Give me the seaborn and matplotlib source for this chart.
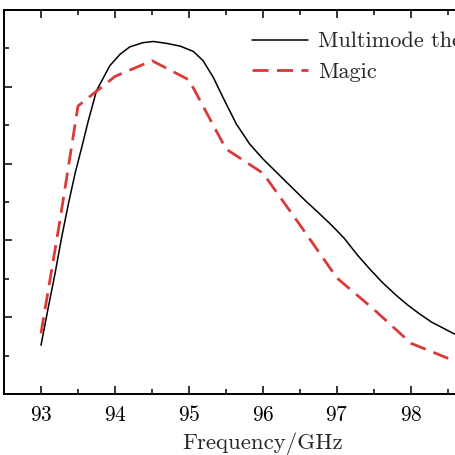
import numpy as np
import pandas as pd
import matplotlib
matplotlib.use('Agg')
import matplotlib.pyplot as plt
from matplotlib.ticker import MultipleLocator
import seaborn as sns

# 数据（从图中读取，纵轴单位为任意单位）
freq_theory = [93.0, 93.1, 93.19, 93.28, 93.37, 93.46, 93.55, 93.64, 93.75, 93.93,
               94.07, 94.2, 94.38, 94.52, 94.7, 94.88, 95.06, 95.19, 95.33, 95.46,
               95.64, 95.82, 96.0, 96.2, 96.4, 96.57, 96.75, 96.93, 97.1, 97.28,
               97.45, 97.61, 97.8, 97.96, 98.12, 98.28, 98.43, 98.57, 98.75, 99.0]
val_theory = [1.27, 2.27, 3.14, 4.09, 4.95, 5.74, 6.42, 7.12, 7.9, 8.55,
              8.85, 9.04, 9.15, 9.18, 9.13, 9.06, 8.92, 8.68, 8.24, 7.72,
              7.03, 6.51, 6.12, 5.74, 5.36, 5.04, 4.72, 4.39, 4.05, 3.61,
              3.24, 2.91, 2.57, 2.31, 2.08, 1.87, 1.72, 1.58, 1.44, 1.28]

freq_magic = [93.0, 93.25, 93.5, 94.0, 94.5, 95.0, 95.5, 96.0, 96.5, 97.0, 97.5, 98.0, 98.5, 99.0]
val_magic = [1.58, 4.45, 7.5, 8.27, 8.68, 8.18, 6.38, 5.75, 4.4, 3.02, 2.2, 1.32, 0.93, 0.82]

labels = ['Multimode theory', 'Magic']

sns.set_theme(style='ticks')
plt.rcParams['font.family'] = ['cmr10', 'DejaVu Serif']
plt.rcParams['axes.formatter.use_mathtext'] = True
plt.rcParams['mathtext.fontset'] = 'cm'

fig = plt.figure(figsize=(4.55, 4.55), dpi=100)
# 原图被裁切：坐标轴向右延伸到画面之外
ax = fig.add_axes([4 / 455, 61 / 455, 518 / 455, 384 / 455])

df_t = pd.DataFrame({'f': freq_theory, 'v': val_theory})
df_m = pd.DataFrame({'f': freq_magic, 'v': val_magic})

sns.lineplot(data=df_t, x='f', y='v', ax=ax, color='black', linewidth=1.1,
             label=labels[0])
sns.lineplot(data=df_m, x='f', y='v', ax=ax, color='#d93a3a', linewidth=2.0,
             label=labels[1])
ax.lines[1].set_dashes((5.8, 3.0))

ax.set_xlim(92.5, 99.5)
ax.set_ylim(0, 10)
ax.xaxis.set_major_locator(MultipleLocator(1))
ax.xaxis.set_minor_locator(MultipleLocator(0.5))
ax.yaxis.set_major_locator(MultipleLocator(2))
ax.yaxis.set_minor_locator(MultipleLocator(1))
ax.tick_params(which='both', direction='in', top=True, right=True,
               labelsize=15.5, width=1.1, colors='black')
ax.tick_params(which='major', length=6)
ax.tick_params(which='minor', length=3.5)
ax.tick_params(axis='x', pad=8)
ax.set_yticklabels([])

for sp in ax.spines.values():
    sp.set_linewidth(1.4)
    sp.set_color('black')

ax.set_xlabel('Frequency/GHz', fontsize=16.5, labelpad=5)
ax.set_ylabel('')

leg = ax.legend(loc='upper left', bbox_to_anchor=(243 / 455, 1 - 23 / 455),
                bbox_transform=fig.transFigure, frameon=False, fontsize=16,
                handlelength=2.52, handletextpad=0.45, labelspacing=0.5,
                borderaxespad=0)
leg.get_lines()[1].set_dashes((5.8, 3.0))

fig.savefig('out.png', dpi=100)
plt.close(fig)
